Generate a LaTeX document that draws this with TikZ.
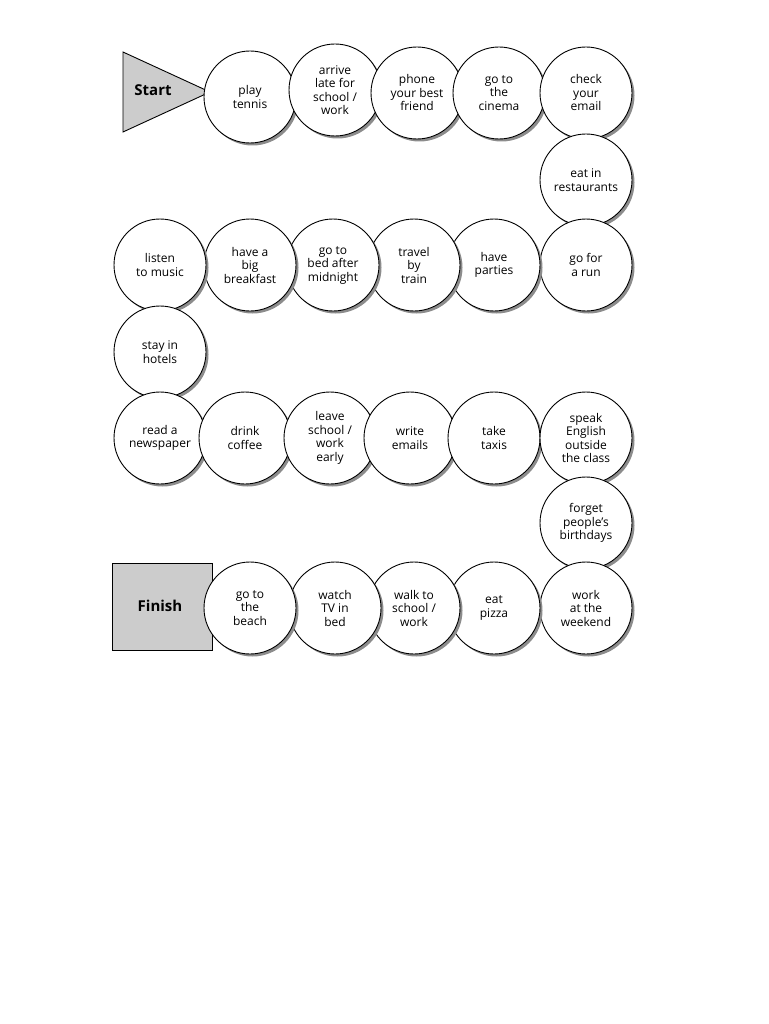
\documentclass[tikz,border=0pt]{standalone}
\usepackage{fontspec}
\setmainfont{Open Sans}
\begin{document}
\begin{tikzpicture}[x=1pt,y=-1pt,
  sq/.style={circle,draw=black,line width=0.9pt,fill=white,minimum size=92pt,inner sep=0pt,align=center,font=\fontsize{12}{13.5}\selectfont,
    preaction={fill=black!45,transform canvas={shift={(2.5pt,-2.5pt)}}}}]
\useasboundingbox (0,0) rectangle (768,1024);
\draw[fill=black!20,line width=0.9pt] (123,52) -- (210,92) -- (123,132) -- cycle;
\node (start) at (153,90) {\fontsize{15}{17}\selectfont\bfseries Start};
\draw[fill=black!20,line width=0.9pt] (112,563) rectangle (212,650);
\node (finish) at (160,606) {\fontsize{15}{17}\selectfont\bfseries Finish};
% row 1
\node[sq] (a1) at (250,97) {play\\tennis};
\node[sq] (a2) at (335,90) {arrive\\late for\\school /\\work};
\node[sq] (a3) at (417,93) {phone\\your best\\friend};
\node[sq] (a4) at (499,93) {go to\\the\\cinema};
\node[sq] (a5) at (586,93) {check\\your\\email};
\node[sq] (b1) at (586,180) {eat in\\restaurants};
% row 2
\node[sq] (c6) at (586,265) {go for\\a run};
\node[sq] (c5) at (494,265) {have\\parties};
\node[sq] (c4) at (414,265) {travel\\by\\train};
\node[sq] (c3) at (333,265) {go to\\bed after\\midnight};
\node[sq] (c2) at (250,265) {have a\\big\\breakfast};
\node[sq] (c1) at (160,265) {listen\\to music};
\node[sq] (d1) at (160,352) {stay in\\hotels};
% row 3
\node[sq] (e1) at (160,438) {read a\\newspaper};
\node[sq] (e2) at (245,438) {drink\\coffee};
\node[sq] (e3) at (330,438) {leave\\school /\\work\\early};
\node[sq] (e4) at (410,438) {write\\emails};
\node[sq] (e5) at (494,438) {take\\taxis};
\node[sq] (e6) at (586,438) {speak\\English\\outside\\the class};
\node[sq] (f1) at (586,523) {forget\\people's\\birthdays};
% row 4
\node[sq] (g5) at (586,608) {work\\at the\\weekend};
\node[sq] (g4) at (494,608) {eat\\pizza};
\node[sq] (g3) at (414,608) {walk to\\school /\\work};
\node[sq] (g2) at (335,608) {watch\\TV in\\bed};
\node[sq] (g1) at (250,608) {go to\\the\\beach};
\end{tikzpicture}
\end{document}
